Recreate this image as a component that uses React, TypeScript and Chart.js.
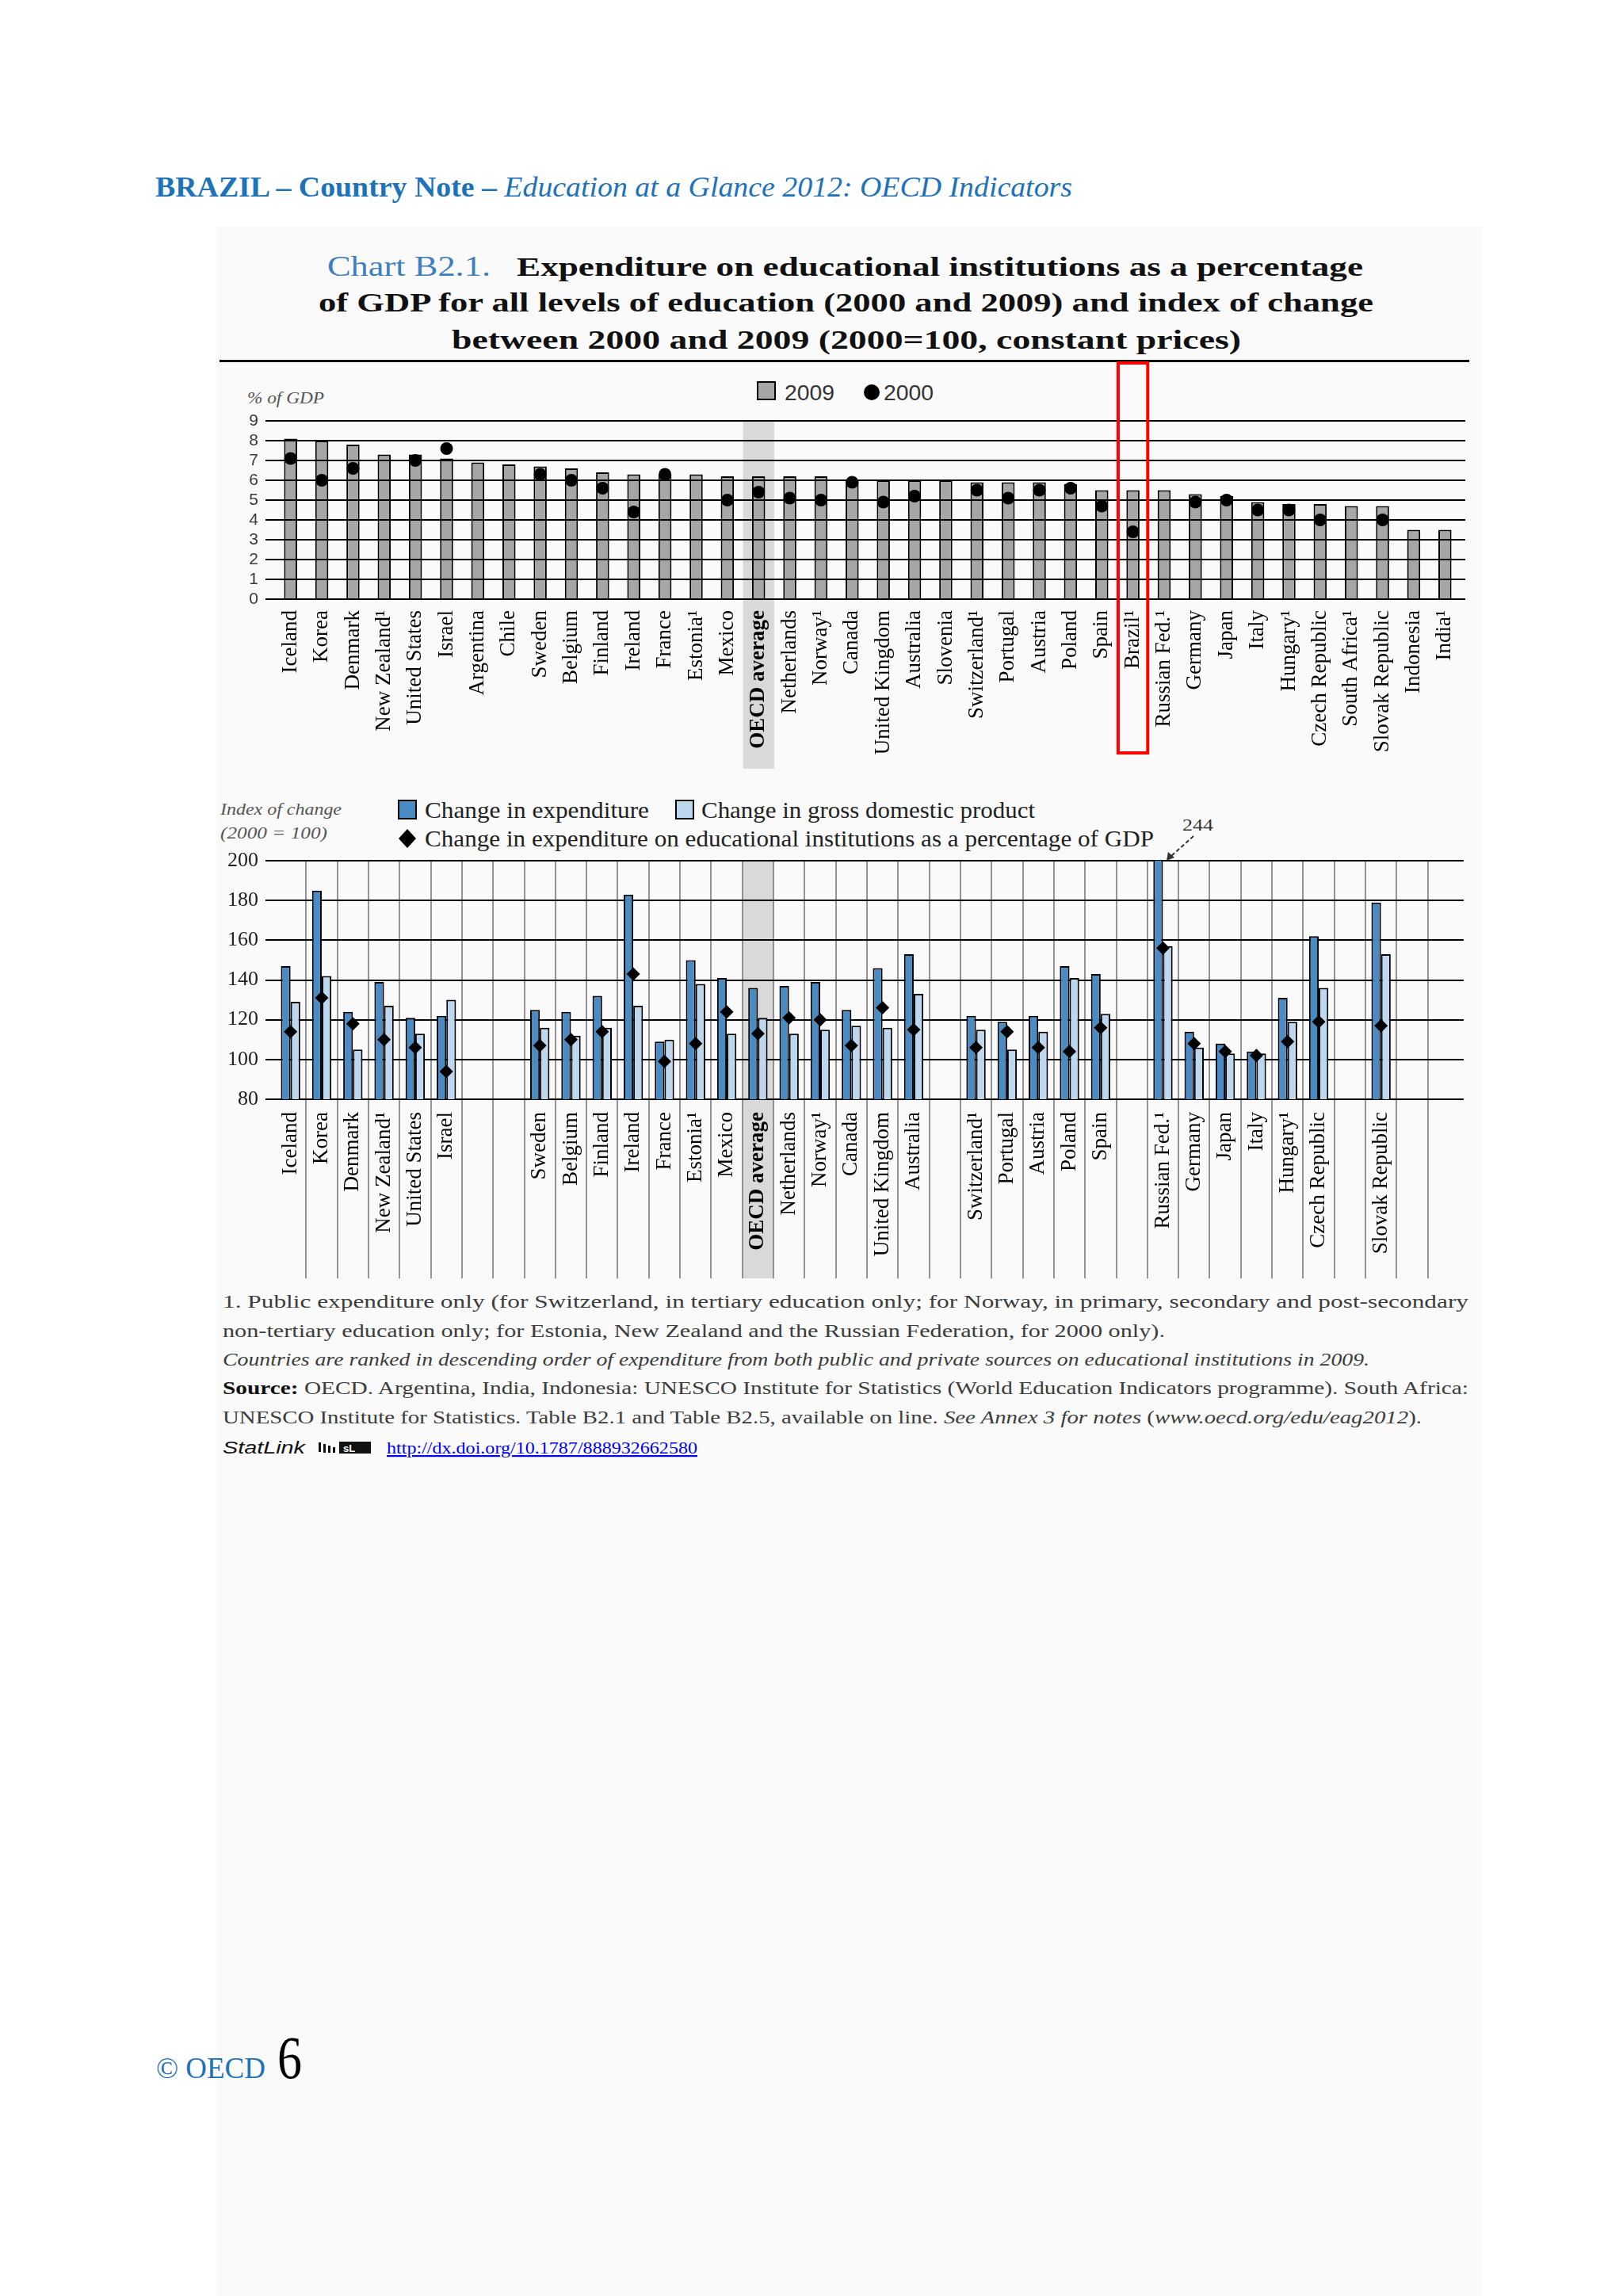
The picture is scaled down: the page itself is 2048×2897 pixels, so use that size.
import React, { useEffect, useRef } from "react";
import { Chart, registerables } from "chart.js";

Chart.register(...registerables);

// ---------- DATA ----------
const categories = [
  "Iceland", "Korea", "Denmark", "New Zealand¹", "United States", "Israel", "Argentina", "Chile",
  "Sweden", "Belgium", "Finland", "Ireland", "France", "Estonia¹", "Mexico", "OECD average",
  "Netherlands", "Norway¹", "Canada", "United Kingdom", "Australia", "Slovenia", "Switzerland¹",
  "Portugal", "Austria", "Poland", "Spain", "Brazil¹", "Russian Fed.¹", "Germany", "Japan", "Italy",
  "Hungary¹", "Czech Republic", "South Africa¹", "Slovak Republic", "Indonesia", "India¹",
];

// labels of the lower panel (countries without index data are left blank)
const indexCategories = [
  "Iceland", "Korea", "Denmark", "New Zealand¹", "United States", "Israel", "", "",
  "Sweden", "Belgium", "Finland", "Ireland", "France", "Estonia¹", "Mexico", "OECD average",
  "Netherlands", "Norway¹", "Canada", "United Kingdom", "Australia", "", "Switzerland¹",
  "Portugal", "Austria", "Poland", "Spain", "", "Russian Fed.¹", "Germany", "Japan", "Italy",
  "Hungary¹", "Czech Republic", "", "Slovak Republic", "", "",
];

const share2009 = [
  8.1, 8.0, 7.8, 7.3, 7.3, 7.1, 6.9, 6.8, 6.7, 6.6, 6.4, 6.3, 6.3, 6.3, 6.2, 6.2, 6.2, 6.2, 6.0,
  6.0, 6.0, 6.0, 5.9, 5.9, 5.9, 5.8, 5.5, 5.5, 5.5, 5.3, 5.2, 4.9, 4.8, 4.8, 4.7, 4.7, 3.5, 3.5,
];

const share2000 = [
  7.1, 6.0, 6.6, null, 7.0, 7.6, null, null, 6.3, 6.0, 5.6, 4.4, 6.3, null, 5.0, 5.4, 5.1, 5.0, 5.9,
  4.9, 5.2, null, 5.5, 5.1, 5.5, 5.6, 4.7, 3.4, null, 4.9, 5.0, 4.5, 4.5, 4.0, null, 4.0, null, null,
];

const expenditureChange = [
  147, 185, 124, 139, 121, 122, null, null, 125, 124, 132, 183, 109, 150, 141, 136, 137, 139, 125,
  146, 153, null, 122, 119, 122, 147, 143, null, 244, 114, 108, 104, 131, 162, null, 179, null, null,
];

const gdpChange = [
  129, 142, 105, 127, 113, 130, null, null, 116, 112, 116, 127, 110, 138, 113, 121, 113, 115, 117,
  116, 133, null, 115, 105, 114, 141, 123, null, 157, 106, 103, 103, 119, 136, null, 153, null, null,
];

const shareChange = [
  114, 131, 118, 110, 106, 94, null, null, 107, 110, 114, 143, 99, 108, 124, 113, 121, 120, 107,
  126, 115, null, 106, 114, 106, 104, 116, null, 156, 108, 104, 102, 109, 119, null, 117, null, null,
];

const shareTicks = [0, 1, 2, 3, 4, 5, 6, 7, 8, 9];
const indexTicks = [80, 100, 120, 140, 160, 180, 200];

const OECD_INDEX = categories.indexOf("OECD average");
const BRAZIL_INDEX = categories.indexOf("Brazil¹");

const SERIF = "'Liberation Serif', 'Times New Roman', serif";
const SANS = "'Liberation Sans', Arial, sans-serif";

function catWidth(x: any) {
  return x.getPixelForValue(1) - x.getPixelForValue(0);
}

// ---------- TOP CHART ----------
function TopChart() {
  const ref = useRef<HTMLCanvasElement | null>(null);
  useEffect(() => {
    const canvas = ref.current;
    if (!canvas) return;
    const deco = {
      id: "topDeco",
      beforeDraw(chart: any) {
        const { ctx, chartArea, scales } = chart;
        const x = scales.x;
        const w = catWidth(x);
        const cx = x.getPixelForValue(OECD_INDEX);
        ctx.save();
        ctx.fillStyle = "#d9d9d9";
        ctx.fillRect(cx - w / 2, chartArea.top, w, 520 - chartArea.top);
        ctx.restore();
      },
      beforeDatasetDraw(chart: any, args: any) {
        if (args.index !== 1) return;
        const { ctx, chartArea, scales } = chart;
        const y = scales.y;
        ctx.save();
        ctx.strokeStyle = "#000";
        ctx.lineWidth = 2;
        for (const v of shareTicks) {
          const py = Math.round(y.getPixelForValue(v));
          ctx.beginPath();
          ctx.moveTo(chartArea.left - 12, py);
          ctx.lineTo(chartArea.right + 6, py);
          ctx.stroke();
        }
        ctx.restore();
      },
      afterDraw(chart: any) {
        const { ctx, scales } = chart;
        const x = scales.x;
        const w = catWidth(x);
        const cx = x.getPixelForValue(BRAZIL_INDEX);
        ctx.save();
        ctx.strokeStyle = "#ff0000";
        ctx.lineWidth = 4;
        ctx.strokeRect(cx - w / 2 + 1, 8, w - 2, 492);
        ctx.restore();
      },
    };
    const chart = new Chart(canvas, {
      type: "bar",
      data: {
        labels: categories,
        datasets: [
          {
            type: "bar",
            label: "2009",
            data: share2009,
            backgroundColor: "#a6a6a6",
            borderColor: "#000",
            borderWidth: 2,
            barPercentage: 0.42,
            categoryPercentage: 1,
            order: 2,
          },
          {
            type: "line",
            label: "2000",
            data: share2000 as any,
            showLine: false,
            pointRadius: 8,
            pointHoverRadius: 8,
            pointBackgroundColor: "#000",
            pointBorderWidth: 0,
            order: 1,
          } as any,
        ],
      },
      options: {
        animation: false,
        responsive: false,
        maintainAspectRatio: false,
        layout: { padding: { top: 81, left: 0, right: 22, bottom: 0 } },
        plugins: { legend: { display: false }, tooltip: { enabled: false } },
        scales: {
          x: {
            grid: { display: false, drawTicks: false },
            border: { display: false },
            ticks: {
              autoSkip: false,
              maxRotation: 90,
              minRotation: 90,
              padding: 14,
              color: "#000",
              font: (c: any) => ({
                family: SERIF,
                size: 27,
                weight: c.index === OECD_INDEX ? "bold" : "normal",
              }),
            },
            afterFit: (s: any) => {
              s.height = 224;
            },
          },
          y: {
            min: shareTicks[0],
            max: shareTicks[shareTicks.length - 1],
            grid: { display: false, drawTicks: false },
            border: { display: false },
            ticks: {
              stepSize: 1,
              autoSkip: false,
              padding: 21,
              color: "#3a3a3a",
              font: { family: SANS, size: 21 },
            },
            afterFit: (s: any) => {
              s.width = 77;
            },
          },
        },
      } as any,
      plugins: [deco],
    });
    return () => chart.destroy();
  }, []);
  return (
    <canvas
      ref={ref}
      width={1600}
      height={530}
      style={{ position: "absolute", left: 270, top: 450, width: 1600, height: 530 }}
    />
  );
}

// ---------- BOTTOM CHART ----------
const BOTTOM_TOP = 1046;
const BOTTOM_LINE_END = 1613 - BOTTOM_TOP;

function BottomChart() {
  const ref = useRef<HTMLCanvasElement | null>(null);
  useEffect(() => {
    const canvas = ref.current;
    if (!canvas) return;
    const deco = {
      id: "bottomDeco",
      beforeDraw(chart: any) {
        const { ctx, chartArea, scales } = chart;
        const x = scales.x;
        const w = catWidth(x);
        const cx = x.getPixelForValue(OECD_INDEX);
        ctx.save();
        ctx.fillStyle = "#d9d9d9";
        ctx.fillRect(cx - w / 2, chartArea.top, w, BOTTOM_LINE_END - chartArea.top);
        ctx.strokeStyle = "#7a7a7a";
        ctx.lineWidth = 1.6;
        for (let k = 1; k < indexCategories.length; k++) {
          const px = Math.round(x.getPixelForValue(k) - w / 2);
          ctx.beginPath();
          ctx.moveTo(px, chartArea.top);
          ctx.lineTo(px, BOTTOM_LINE_END);
          ctx.stroke();
        }
        ctx.restore();
      },
      beforeDatasetsDraw(chart: any) {
        const { ctx, chartArea, scales } = chart;
        const y = scales.y;
        ctx.save();
        ctx.strokeStyle = "#000";
        ctx.lineWidth = 2;
        for (const v of indexTicks) {
          const py = Math.round(y.getPixelForValue(v));
          ctx.beginPath();
          ctx.moveTo(chartArea.left - 12, py);
          ctx.lineTo(chartArea.right + 6, py);
          ctx.stroke();
        }
        ctx.restore();
      },
    };
    const chart = new Chart(canvas, {
      type: "bar",
      data: {
        labels: indexCategories,
        datasets: [
          {
            type: "bar",
            label: "Change in expenditure",
            data: expenditureChange as any,
            backgroundColor: "#4a8bc4",
            borderColor: "#000",
            borderWidth: 2,
            barPercentage: 1,
            categoryPercentage: 0.62,
            order: 1,
          },
          {
            type: "bar",
            label: "Change in gross domestic product",
            data: gdpChange as any,
            backgroundColor: "#bdd7ee",
            borderColor: "#000",
            borderWidth: 2,
            barPercentage: 1,
            categoryPercentage: 0.62,
            order: 2,
          },
          {
            type: "line",
            label: "Change in expenditure on educational institutions as a percentage of GDP",
            data: shareChange as any,
            showLine: false,
            pointStyle: "rectRot",
            pointRadius: 8.5,
            pointHoverRadius: 8.5,
            pointBackgroundColor: "#000",
            pointBorderWidth: 0,
            order: 0,
          } as any,
        ],
      },
      options: {
        animation: false,
        responsive: false,
        maintainAspectRatio: false,
        layout: { padding: { top: 1086 - BOTTOM_TOP, left: 0, right: 22, bottom: 0 } },
        plugins: { legend: { display: false }, tooltip: { enabled: false } },
        scales: {
          x: {
            grid: { display: false, drawTicks: false },
            border: { display: false },
            ticks: {
              autoSkip: false,
              maxRotation: 90,
              minRotation: 90,
              padding: 16,
              color: "#000",
              font: (c: any) => ({
                family: SERIF,
                size: 27,
                weight: c.index === OECD_INDEX ? "bold" : "normal",
              }),
            },
            afterFit: (s: any) => {
              s.height = 1620 - 1387;
            },
          },
          y: {
            min: indexTicks[0],
            max: indexTicks[indexTicks.length - 1],
            grid: { display: false, drawTicks: false },
            border: { display: false },
            ticks: {
              stepSize: 20,
              autoSkip: false,
              padding: 21,
              color: "#222",
              font: { family: SERIF, size: 26 },
            },
            afterFit: (s: any) => {
              s.width = 77;
            },
          },
        },
      } as any,
      plugins: [deco],
    });
    return () => chart.destroy();
  }, []);
  return (
    <canvas
      ref={ref}
      width={1600}
      height={1620 - BOTTOM_TOP}
      style={{ position: "absolute", left: 270, top: BOTTOM_TOP, width: 1600, height: 1620 - BOTTOM_TOP }}
    />
  );
}

// ---------- TEXT OVERLAY ----------
function Texts() {
  const blue = "#1e72b8";
  const note = "#3c3c3c";
  return (
    <svg
      width={2048}
      height={2897}
      style={{ position: "absolute", left: 0, top: 0 }}
      xmlns="http://www.w3.org/2000/svg"
    >
      {/* header */}
      <text x={196} y={248} fontFamily={SERIF} fontSize={35} fill={blue} textLength={1157} lengthAdjust="spacingAndGlyphs">
        <tspan fontWeight="bold">BRAZIL – Country Note – </tspan>
        <tspan fontStyle="italic">Education at a Glance 2012: OECD Indicators</tspan>
      </text>

      {/* title */}
      <text x={413} y={348} fontFamily={SERIF} fontSize={36} fill="#3f7fbd" textLength={206} lengthAdjust="spacingAndGlyphs">
        Chart B2.1.
      </text>
      <text x={652} y={348} fontFamily={SERIF} fontSize={34} fontWeight="bold" fill="#111" textLength={1068} lengthAdjust="spacingAndGlyphs">
        Expenditure on educational institutions as a percentage
      </text>
      <text x={402} y={393} fontFamily={SERIF} fontSize={34} fontWeight="bold" fill="#111" textLength={1331} lengthAdjust="spacingAndGlyphs">
        of GDP for all levels of education (2000 and 2009) and index of change
      </text>
      <text x={570} y={440} fontFamily={SERIF} fontSize={34} fontWeight="bold" fill="#111" textLength={996} lengthAdjust="spacingAndGlyphs">
        between 2000 and 2009 (2000=100, constant prices)
      </text>
      <rect x={277} y={454} width={1577} height={3} fill="#000" />

      {/* top legend and axis title */}
      <text x={312} y={509} fontFamily={SERIF} fontStyle="italic" fontSize={21} fill="#555" textLength={97} lengthAdjust="spacingAndGlyphs">
        % of GDP
      </text>
      <rect x={956} y={482} width={22} height={22} fill="#a6a6a6" stroke="#000" strokeWidth={2} />
      <text x={990} y={505} fontFamily={SANS} fontSize={27} fill="#333" textLength={63} lengthAdjust="spacingAndGlyphs">
        2009
      </text>
      <circle cx={1100} cy={495} r={10} fill="#000" />
      <text x={1115} y={505} fontFamily={SANS} fontSize={27} fill="#333" textLength={63} lengthAdjust="spacingAndGlyphs">
        2000
      </text>

      {/* bottom legend and axis title */}
      <text x={278} y={1028} fontFamily={SERIF} fontStyle="italic" fontSize={22} fill="#555" textLength={153} lengthAdjust="spacingAndGlyphs">
        Index of change
      </text>
      <text x={278} y={1058} fontFamily={SERIF} fontStyle="italic" fontSize={22} fill="#555" textLength={135} lengthAdjust="spacingAndGlyphs">
        (2000 = 100)
      </text>
      <rect x={503} y={1010} width={22} height={23} fill="#4a8bc4" stroke="#000" strokeWidth={2} />
      <text x={536} y={1032} fontFamily={SERIF} fontSize={30} fill="#222" textLength={283} lengthAdjust="spacingAndGlyphs">
        Change in expenditure
      </text>
      <rect x={853} y={1010} width={22} height={23} fill="#bdd7ee" stroke="#000" strokeWidth={2} />
      <text x={885} y={1032} fontFamily={SERIF} fontSize={30} fill="#222" textLength={421} lengthAdjust="spacingAndGlyphs">
        Change in gross domestic product
      </text>
      <polygon points="514,1046 525,1058 514,1070 503,1058" fill="#000" />
      <text x={536} y={1068} fontFamily={SERIF} fontSize={30} fill="#222" textLength={920} lengthAdjust="spacingAndGlyphs">
        Change in expenditure on educational institutions as a percentage of GDP
      </text>

      {/* off-scale annotation */}
      <text x={1492} y={1048} fontFamily={SERIF} fontSize={22} fill="#333" textLength={39} lengthAdjust="spacingAndGlyphs">
        244
      </text>
      <line x1={1506} y1={1055} x2={1477} y2={1081} stroke="#333" strokeWidth={2} strokeDasharray="5 3" />
      <polygon points="1472,1086 1474,1075 1482,1082" fill="#333" />

      {/* notes */}
      <text x={281} y={1650} fontFamily={SERIF} fontSize={24} fill={note} textLength={1572} lengthAdjust="spacingAndGlyphs">
        1. Public expenditure only (for Switzerland, in tertiary education only; for Norway, in primary, secondary and post-secondary
      </text>
      <text x={281} y={1687} fontFamily={SERIF} fontSize={24} fill={note} textLength={1189} lengthAdjust="spacingAndGlyphs">
        non-tertiary education only; for Estonia, New Zealand and the Russian Federation, for 2000 only).
      </text>
      <text x={281} y={1723} fontFamily={SERIF} fontStyle="italic" fontSize={24} fill={note} textLength={1447} lengthAdjust="spacingAndGlyphs">
        Countries are ranked in descending order of expenditure from both public and private sources on educational institutions in 2009.
      </text>
      <text x={281} y={1759} fontFamily={SERIF} fontSize={24} fill={note} textLength={1572} lengthAdjust="spacingAndGlyphs">
        <tspan fontWeight="bold" fill="#111">Source:</tspan>
        <tspan> OECD. Argentina, India, Indonesia: UNESCO Institute for Statistics (World Education Indicators programme). South Africa:</tspan>
      </text>
      <text x={281} y={1796} fontFamily={SERIF} fontSize={24} fill={note} textLength={1513} lengthAdjust="spacingAndGlyphs">
        <tspan>UNESCO Institute for Statistics. Table B2.1 and Table B2.5, available on line. </tspan>
        <tspan fontStyle="italic">See Annex 3 for notes</tspan>
        <tspan> (</tspan>
        <tspan fontStyle="italic">www.oecd.org/edu/eag2012</tspan>
        <tspan>).</tspan>
      </text>
      <text x={281} y={1834} fontFamily={SANS} fontStyle="italic" fontSize={22} fill="#111" textLength={104} lengthAdjust="spacingAndGlyphs">
        StatLink
      </text>
      <g fill="#111">
        <rect x={402} y={1820} width={3} height={12} />
        <rect x={408} y={1822} width={3} height={11} />
        <rect x={414} y={1824} width={3} height={9} />
        <rect x={420} y={1826} width={3} height={7} />
        <rect x={428} y={1819} width={40} height={15} />
      </g>
      <text x={433} y={1832} fontFamily={SANS} fontSize={13} fontWeight="bold" fill="#fff">
        sL
      </text>
      <text x={488} y={1834} fontFamily={SERIF} fontSize={22} fill="#0000ee" textDecoration="underline" textLength={392} lengthAdjust="spacingAndGlyphs">
        http://dx.doi.org/10.1787/888932662580
      </text>

      {/* footer */}
      <text x={197} y={2622} fontFamily={SERIF} fontSize={37} fill={blue} textLength={138} lengthAdjust="spacingAndGlyphs">
        © OECD
      </text>
      <text x={350} y={2622} fontFamily={SERIF} fontSize={76} fill="#000" textLength={31} lengthAdjust="spacingAndGlyphs">
        6
      </text>
    </svg>
  );
}

export default function App() {
  return (
    <div
      style={{
        position: "absolute",
        left: 0,
        top: 0,
        width: 2048,
        height: 2897,
        background: "#fff",
        overflow: "hidden",
      }}
    >
      <div style={{ position: "absolute", left: 273, top: 286, width: 1597, height: 2611, background: "#fafafa" }} />
      <Texts />
      <TopChart />
      <BottomChart />
    </div>
  );
}
